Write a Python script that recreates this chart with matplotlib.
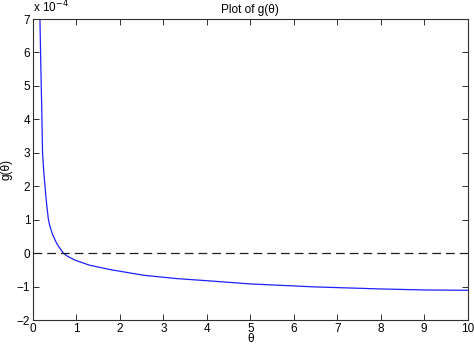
import matplotlib
matplotlib.use("Agg")
import matplotlib.pyplot as plt

# values, g in units of 1e-4
theta = [0.16, 0.18, 0.20, 0.22, 0.25, 0.28, 0.30, 0.32, 0.35, 0.38, 0.42, 0.45,
         0.51, 0.55, 0.60, 0.70, 0.80, 0.97, 1.30, 1.77, 2.54, 3.30, 4.07, 5.0,
         6.5, 8.0, 9.0, 10.0]
g_val = [7.0, 5.6, 4.4, 3.0, 2.4, 1.95, 1.65, 1.4, 1.05, 0.85, 0.68, 0.56,
         0.39, 0.28, 0.18, 0.0, -0.1, -0.21, -0.36, -0.49, -0.66, -0.76, -0.83, -0.92,
         -1.01, -1.07, -1.10, -1.11]
xticks = list(range(0, 11))
yticks = list(range(-2, 8))

plt.rcParams['font.family'] = ['Liberation Sans', 'DejaVu Sans']
plt.rcParams['font.size'] = 8.5

fig = plt.figure(figsize=(4.74, 3.46), dpi=100)
ax = fig.add_axes([0.0696, 0.075, 0.917, 0.87])

ax.plot(theta, g_val, color='#2020ff', lw=0.9)
ax.axhline(0, color='#202020', lw=0.9, linestyle=(0, (7, 4)))

ax.set_xlim(0, 10)
ax.set_ylim(-2, 7)
ax.set_xticks(xticks)
ax.set_yticks(yticks)
ax.set_yticklabels([str(v).replace('-', '\u2212') for v in yticks])
ax.tick_params(direction='in', length=4, width=0.7, top=True, right=True,
               color='#303030', pad=2)
for s in ax.spines.values():
    s.set_linewidth(0.8)
    s.set_color('#303030')

ax.set_title('Plot of g(\u03b8)', fontsize=8.5, pad=4)
ax.set_xlabel('\u03b8', labelpad=-1)
ax.set_ylabel('g(\u03b8)', labelpad=3)
ax.text(0.0, 1.012, r'x 10$^{-4}$', transform=ax.transAxes, ha='left', va='bottom')

fig.savefig('out.png', dpi=100)
